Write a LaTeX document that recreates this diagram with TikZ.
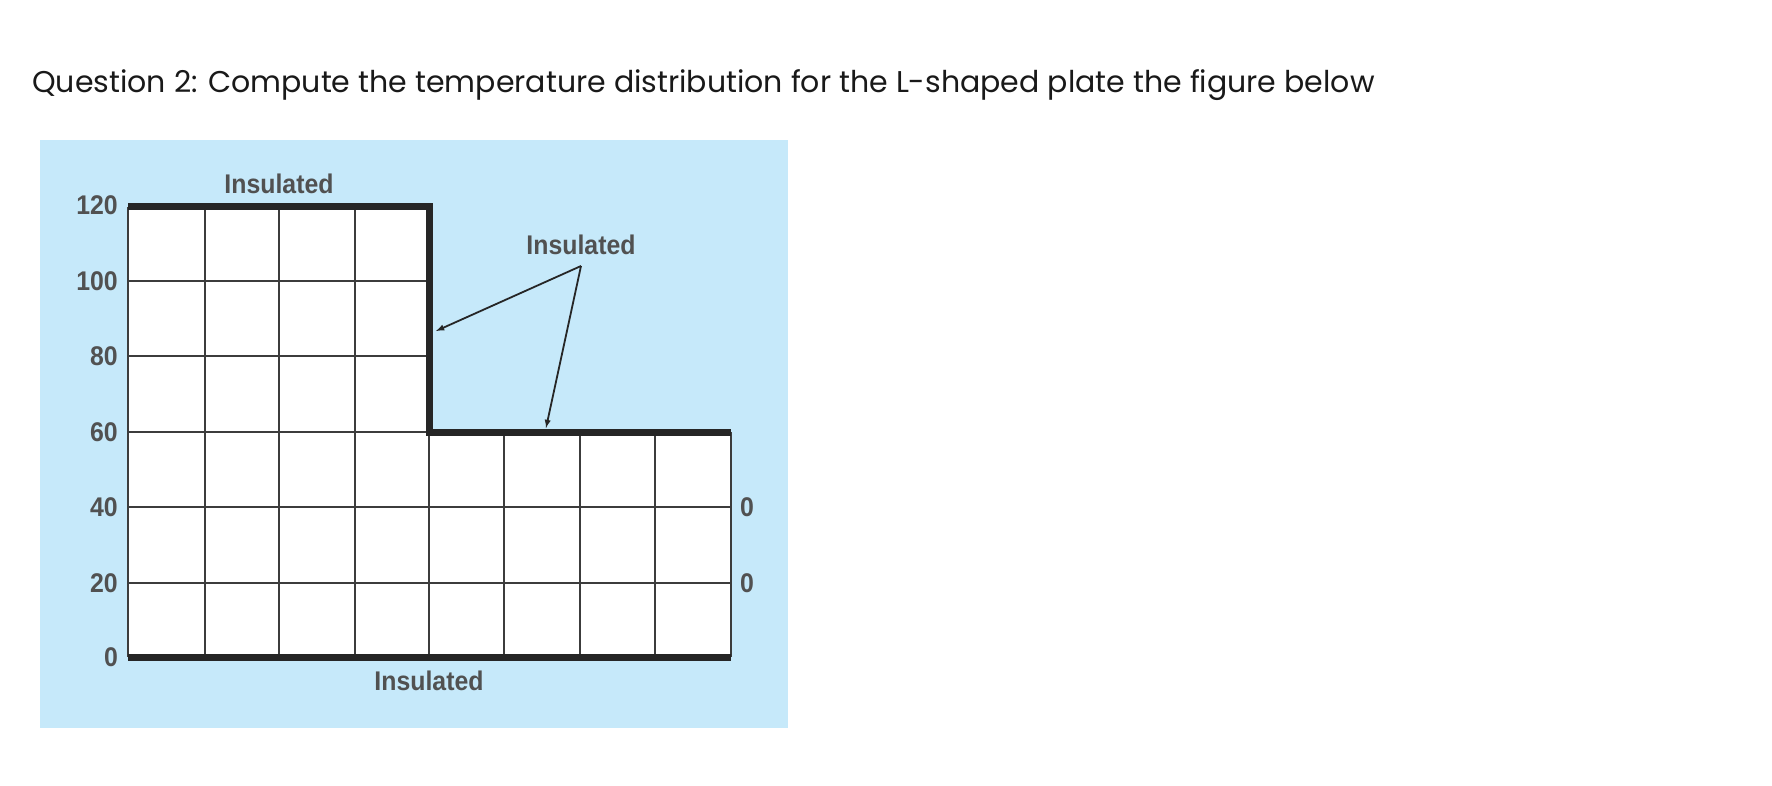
\documentclass[tikz,border=0pt]{standalone}
\usepackage{fontspec}
\setmainfont{Poppins}
\newfontfamily\lab{Liberation Sans}
\definecolor{bgblue}{HTML}{C6E9FA}
\definecolor{ink}{HTML}{262626}
\begin{document}
\begin{tikzpicture}[x=1pt,y=-1pt,
  lbl/.style={font=\lab\bfseries\fontsize{27}{27}\selectfont,text=ink!80,inner sep=0pt,xscale=0.92},
  thick line/.style={line width=7pt,ink},
  gridline/.style={line width=2.2pt,ink!90}]
\useasboundingbox (0,0) rectangle (1772,786);
\node[anchor=west,inner sep=0pt,font=\fontsize{30}{30}\selectfont,text=black!90] (title) at (32,85) {Question 2: Compute the temperature distribution for the L-shaped plate the figure below};
\fill[bgblue] (40,140) rectangle (788,728);
% white plate
\fill[white] (128,207) -- (429,207) -- (429,432) -- (731,432) -- (731,657) -- (128,657) -- cycle;
% grid
\foreach \y in {281,356,432} \draw[gridline] (128,\y) -- (429,\y);
\foreach \y in {507,583} \draw[gridline] (128,\y) -- (731,\y);
\foreach \x in {205,279,355} \draw[gridline] (\x,207) -- (\x,657);
\foreach \x in {429,504,580,655} \draw[gridline] (\x,432) -- (\x,657);
\draw[gridline] (128,207) -- (128,657);
\draw[gridline] (731,432) -- (731,657);
% thick insulated edges
\draw[thick line] (128,207) -- (429,207) -- (429,432) -- (731,432);
\draw[thick line] (128,657) -- (731,657);
% ticks
\foreach \v/\y in {120/205,100/281,80/356,60/432,40/507,20/583,0/657}
  \node[lbl,anchor=east] (t\v) at (118,\y) {\v};
\node[lbl,anchor=west] (z1) at (740,507) {0};
\node[lbl,anchor=west] (z2) at (740,583) {0};
\node[lbl] (ins1) at (279,184) {Insulated};
\node[lbl] (ins2) at (581,245) {Insulated};
\node[lbl] (ins3) at (429,681) {Insulated};
\coordinate (apex) at (581,266);
\coordinate (e1) at (436,331);
\coordinate (e2) at (546,428);
\draw[-latex,line width=1.8pt,ink] (apex) -- (e1);
\draw[-latex,line width=1.8pt,ink] (apex) -- (e2);
\end{tikzpicture}
\end{document}
